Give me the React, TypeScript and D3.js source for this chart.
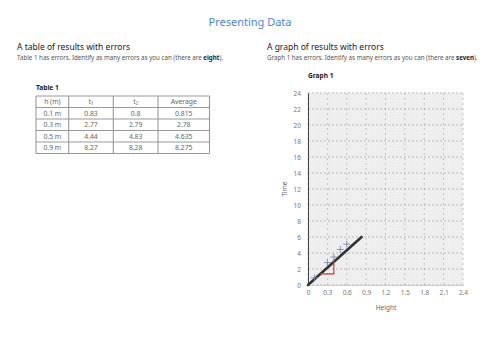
import React, { useRef, useEffect } from 'react';
import * as d3 from 'd3';

// table 1 values
const tableHeader = ['h (m)', 't\u2081', 't\u2082', 'Average'];
const heights = ['0.1 m', '0.3 m', '0.5 m', '0.9 m'];
const t1 = ['0.83', '2.77', '4.44', '8.27'];
const t2 = ['0.8', '2.79', '4.83', '8.28'];
const averages = ['0.815', '2.78', '4.635', '8.275'];

// graph 1 values
const pointHeights = [0.1, 0.3, 0.4, 0.5, 0.6];
const pointTimes = [0.9, 2.8, 3.5, 4.45, 5.1];
const fitHeights = [0, 0.83];
const fitTimes = [0, 6];
const triangleHeights = [0.19, 0.4, 0.4];
const triangleTimes = [1.4, 1.4, 3.2];
const xTicks = [0, 0.3, 0.6, 0.9, 1.2, 1.5, 1.8, 2.1, 2.4];
const yTicks = [0, 2, 4, 6, 8, 10, 12, 14, 16, 18, 20, 22, 24];

const FONT = '"Noto Sans", "Open Sans", sans-serif';

const App = () => {
  const ref = useRef<SVGSVGElement>(null);

  useEffect(() => {
    const svg = d3.select(ref.current).attr('width', 500).attr('height', 353);
    svg.selectAll('*').remove();
    svg.style('font-family', FONT);

    // headings
    svg.append('text')
      .attr('x', 250).attr('y', 26)
      .attr('text-anchor', 'middle')
      .attr('font-size', 11)
      .attr('fill', '#4a86e8')
      .text('Presenting Data');

    const heading = (x: number, title: string, body: string, bold: string) => {
      svg.append('text')
        .attr('x', x).attr('y', 50)
        .attr('font-size', 8.5)
        .attr('fill', '#222')
        .text(title);
      const t = svg.append('text')
        .attr('x', x).attr('y', 59.5)
        .attr('font-size', 6.2)
        .attr('fill', '#555');
      t.append('tspan').text(body);
      t.append('tspan').attr('font-weight', 'bold').attr('fill', '#222').text(bold);
      t.append('tspan').text(').');
    };
    heading(17, 'A table of results with errors',
      'Table 1 has errors.  Identify as many errors as you can (there are ', 'eight');
    heading(267, 'A graph of results with errors',
      'Graph 1 has errors.  Identify as many errors as you can (there are ', 'seven');

    // ---- table ----
    svg.append('text')
      .attr('x', 36).attr('y', 90)
      .attr('font-size', 6.6).attr('font-weight', 'bold').attr('fill', '#222')
      .text('Table 1');

    const colEdges = [36, 68.7, 113.3, 158, 209.5];
    const rows = [tableHeader, ...heights.map((h, i) => [h, t1[i], t2[i], averages[i]])];
    const rowY = d3.scaleBand<number>().domain(d3.range(rows.length)).range([96, 153.5]);

    const table = svg.append('g');
    rows.forEach((row, r) => {
      row.forEach((cell, c) => {
        table.append('text')
          .attr('x', (colEdges[c] + colEdges[c + 1]) / 2)
          .attr('y', rowY(r)! + rowY.bandwidth() / 2 + 2.6)
          .attr('text-anchor', 'middle')
          .attr('font-size', 6.8)
          .attr('fill', '#666')
          .text(cell);
      });
    });
    d3.range(rows.length + 1).forEach(r => {
      const y = r < rows.length ? rowY(r)! : 153.5;
      table.append('line')
        .attr('x1', 36).attr('x2', 209.5).attr('y1', y).attr('y2', y)
        .attr('stroke', '#999').attr('stroke-width', 1.1);
    });
    colEdges.forEach(x => {
      table.append('line')
        .attr('x1', x).attr('x2', x).attr('y1', 96).attr('y2', 153.5)
        .attr('stroke', '#999').attr('stroke-width', 1.1);
    });

    // ---- graph ----
    svg.append('text')
      .attr('x', 308).attr('y', 78)
      .attr('font-size', 6.6).attr('font-weight', 'bold').attr('fill', '#222')
      .text('Graph 1');

    const x = d3.scaleLinear().domain([0, 2.4]).range([308, 463]);
    const y = d3.scaleLinear().domain([0, 24]).range([285, 93]);

    const grid = svg.append('g');
    grid.append('rect')
      .attr('x', x(0)).attr('y', y(24))
      .attr('width', x(2.4) - x(0)).attr('height', y(0) - y(24))
      .attr('fill', '#fafafa');

    // minor grid
    d3.range(0, 121).forEach(i => {
      const xv = x(i * 0.02);
      grid.append('line')
        .attr('x1', xv).attr('x2', xv).attr('y1', y(0)).attr('y2', y(24))
        .attr('stroke', '#e4e4e4').attr('stroke-width', 0.4);
    });
    d3.range(0, 121).forEach(i => {
      const yv = y(i * 0.2);
      grid.append('line')
        .attr('x1', x(0)).attr('x2', x(2.4)).attr('y1', yv).attr('y2', yv)
        .attr('stroke', '#e4e4e4').attr('stroke-width', 0.4);
    });
    // major grid
    xTicks.forEach(t => {
      grid.append('line')
        .attr('x1', x(t)).attr('x2', x(t)).attr('y1', y(0)).attr('y2', y(24))
        .attr('stroke', '#aaa').attr('stroke-width', 0.6)
        .attr('stroke-dasharray', '2,3');
    });
    yTicks.forEach(t => {
      grid.append('line')
        .attr('x1', x(0)).attr('x2', x(2.4)).attr('y1', y(t)).attr('y2', y(t))
        .attr('stroke', '#999').attr('stroke-width', 0.6)
        .attr('stroke-dasharray', '2,2');
    });

    // axes
    const yAxis = svg.append('g')
      .attr('transform', `translate(${x(0)},0)`)
      .call(d3.axisLeft(y).tickValues(yTicks).tickSize(0).tickPadding(7).tickFormat(d3.format('d')));
    const xAxis = svg.append('g')
      .attr('transform', `translate(0,${y(0)})`)
      .call(d3.axisBottom(x).tickValues(xTicks).tickSize(0).tickPadding(5)
        .tickFormat(d => (d === 0 ? '0' : d3.format('.1f')(d as number))));
    [xAxis, yAxis].forEach(a => {
      a.selectAll('text').attr('font-size', 6.5).attr('fill', '#777').attr('font-family', FONT);
    });
    xAxis.select('.domain').attr('stroke', '#bbb').attr('stroke-width', 0.6);
    yAxis.select('.domain').attr('stroke', '#444').attr('stroke-width', 1);

    svg.append('text')
      .attr('x', 386).attr('y', 310)
      .attr('text-anchor', 'middle').attr('font-size', 6.5).attr('fill', '#666')
      .text('Height');
    svg.append('text')
      .attr('transform', `translate(287,${y(12)}) rotate(-90)`)
      .attr('text-anchor', 'middle').attr('font-size', 6.5).attr('fill', '#666')
      .text('Time');

    // best-fit line
    const line = d3.line<number>().x(d => x(d)).y((d, i) => y(fitTimes[i]));
    svg.append('path')
      .attr('d', line(fitHeights))
      .attr('stroke', '#333').attr('stroke-width', 2.6)
      .attr('stroke-linecap', 'round').attr('fill', 'none');

    // gradient triangle
    const tri = d3.line<number>().x(d => x(d)).y((d, i) => y(triangleTimes[i]));
    svg.append('path')
      .attr('d', tri(triangleHeights))
      .attr('stroke', '#cc3b33').attr('stroke-width', 1.2).attr('fill', 'none');

    // data points
    const pts = svg.append('g');
    pointHeights.forEach((h, i) => {
      const cx = x(h), cy = y(pointTimes[i]);
      pts.append('path')
        .attr('d', `M${cx - 3.5},${cy}H${cx + 3.5}M${cx},${cy - 3.5}V${cy + 3.5}`)
        .attr('stroke', '#7080b0').attr('stroke-width', 0.8);
    });
  }, []);

  return <svg ref={ref} style={{ position: 'absolute', left: 0, top: 0 }}></svg>;
};

export default App;
